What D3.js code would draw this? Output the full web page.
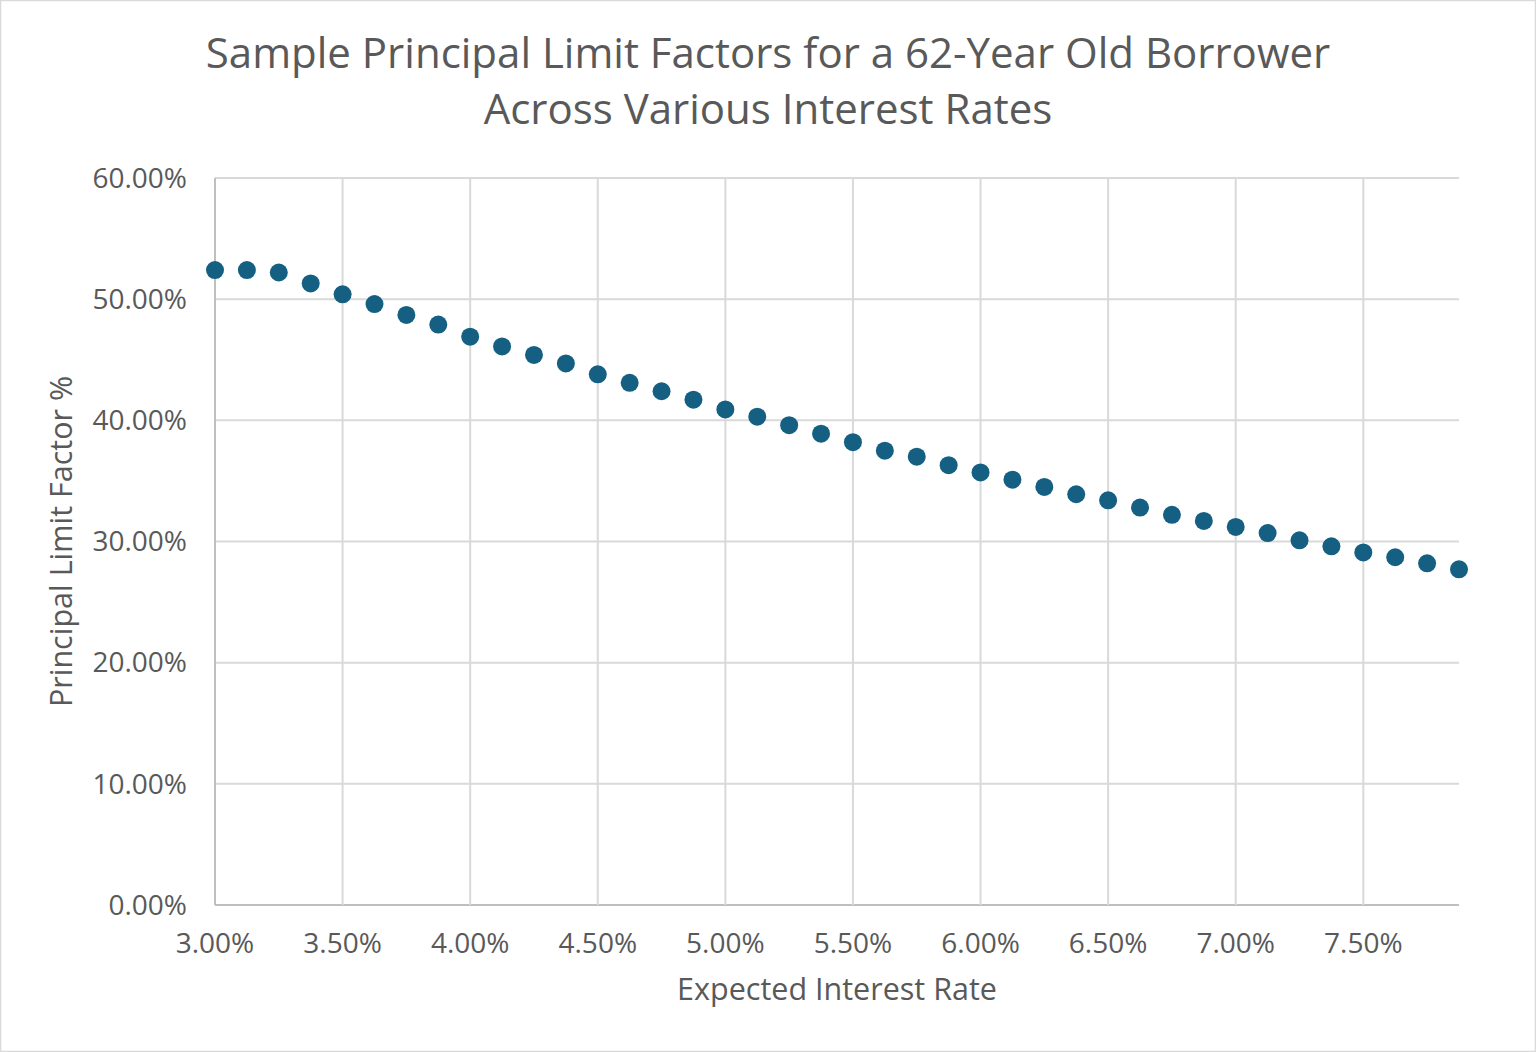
<!DOCTYPE html>
<html>
<head>
<meta charset="utf-8">
<script src="https://cdn.jsdelivr.net/npm/d3@7"></script>
<style>
  body { margin: 0; background: #fff; }
  svg text { font-family: "Open Sans", Roboto, sans-serif; fill: #595959; }
</style>
</head>
<body>
<div id="viz"></div>
<script>
// expected interest rate (%) and principal limit factor (%)
const rates = [3.000, 3.125, 3.250, 3.375, 3.500, 3.625, 3.750, 3.875, 4.000, 4.125,
  4.250, 4.375, 4.500, 4.625, 4.750, 4.875, 5.000, 5.125, 5.250, 5.375,
  5.500, 5.625, 5.750, 5.875, 6.000, 6.125, 6.250, 6.375, 6.500, 6.625,
  6.750, 6.875, 7.000, 7.125, 7.250, 7.375, 7.500, 7.625, 7.750, 7.875];
const plf = [52.4, 52.4, 52.2, 51.3, 50.4, 49.6, 48.7, 47.9, 46.9, 46.1,
  45.4, 44.7, 43.8, 43.1, 42.4, 41.7, 40.9, 40.3, 39.6, 38.9,
  38.2, 37.5, 37.0, 36.3, 35.7, 35.1, 34.5, 33.9, 33.4, 32.8,
  32.2, 31.7, 31.2, 30.7, 30.1, 29.6, 29.1, 28.7, 28.2, 27.7];
const xTicks = [3.0, 3.5, 4.0, 4.5, 5.0, 5.5, 6.0, 6.5, 7.0, 7.5];
const yTicks = [0, 10, 20, 30, 40, 50, 60];
const titleLines = ['Sample Principal Limit Factors for a 62-Year Old Borrower', 'Across Various Interest Rates'];

const W = 1536, H = 1052;
const margin = {left: 215, right: 77, top: 178, bottom: 147};

const svg = d3.select('#viz').append('svg')
  .attr('width', W)
  .attr('height', H);

svg.append('rect')
  .attr('x', 0.5).attr('y', 0.5)
  .attr('width', W - 1).attr('height', H - 1)
  .attr('fill', '#fff')
  .attr('stroke', '#d9d9d9')
  .attr('stroke-width', 1.5);

const x = d3.scaleLinear().domain([3.0, 7.875]).range([margin.left, W - margin.right]);
const y = d3.scaleLinear().domain([0, 60]).range([H - margin.bottom, margin.top]);

// gridlines
svg.append('g')
  .selectAll('line')
  .data(yTicks)
  .join('line')
  .attr('x1', x(3.0)).attr('x2', x(7.875))
  .attr('y1', d => y(d)).attr('y2', d => y(d))
  .attr('stroke', d => d === 0 ? '#bfbfbf' : '#d9d9d9')
  .attr('stroke-width', 2);

svg.append('g')
  .selectAll('line')
  .data(xTicks)
  .join('line')
  .attr('x1', d => x(d)).attr('x2', d => x(d))
  .attr('y1', y(0)).attr('y2', y(60))
  .attr('stroke', d => d === 3.0 ? '#bfbfbf' : '#d9d9d9')
  .attr('stroke-width', 2);

// tick labels
svg.append('g')
  .selectAll('text')
  .data(yTicks)
  .join('text')
  .attr('x', margin.left - 28)
  .attr('y', d => y(d))
  .attr('dy', '0.35em')
  .attr('text-anchor', 'end')
  .attr('font-size', 28)
  .text(d => d.toFixed(2) + '%');

svg.append('g')
  .selectAll('text')
  .data(xTicks)
  .join('text')
  .attr('x', d => x(d))
  .attr('y', y(0) + 48)
  .attr('text-anchor', 'middle')
  .attr('font-size', 28)
  .text(d => d.toFixed(2) + '%');

// axis titles
svg.append('text')
  .attr('x', (x(3.0) + x(7.875)) / 2)
  .attr('y', 1000)
  .attr('text-anchor', 'middle')
  .attr('font-size', 30.5)
  .text('Expected Interest Rate');

svg.append('text')
  .attr('transform', `translate(72,${(y(0) + y(60)) / 2}) rotate(-90)`)
  .attr('text-anchor', 'middle')
  .attr('font-size', 30.5)
  .text('Principal Limit Factor %');

// title
svg.append('g')
  .selectAll('text')
  .data(titleLines)
  .join('text')
  .attr('x', W / 2)
  .attr('y', (d, i) => 68 + i * 56)
  .attr('text-anchor', 'middle')
  .attr('font-size', 42)
  .text(d => d);

// points
svg.append('g')
  .selectAll('circle')
  .data(rates.map((r, i) => ({r, v: plf[i]})))
  .join('circle')
  .attr('cx', d => x(d.r))
  .attr('cy', d => y(d.v))
  .attr('r', 9)
  .attr('fill', '#156082');
</script>
</body>
</html>
